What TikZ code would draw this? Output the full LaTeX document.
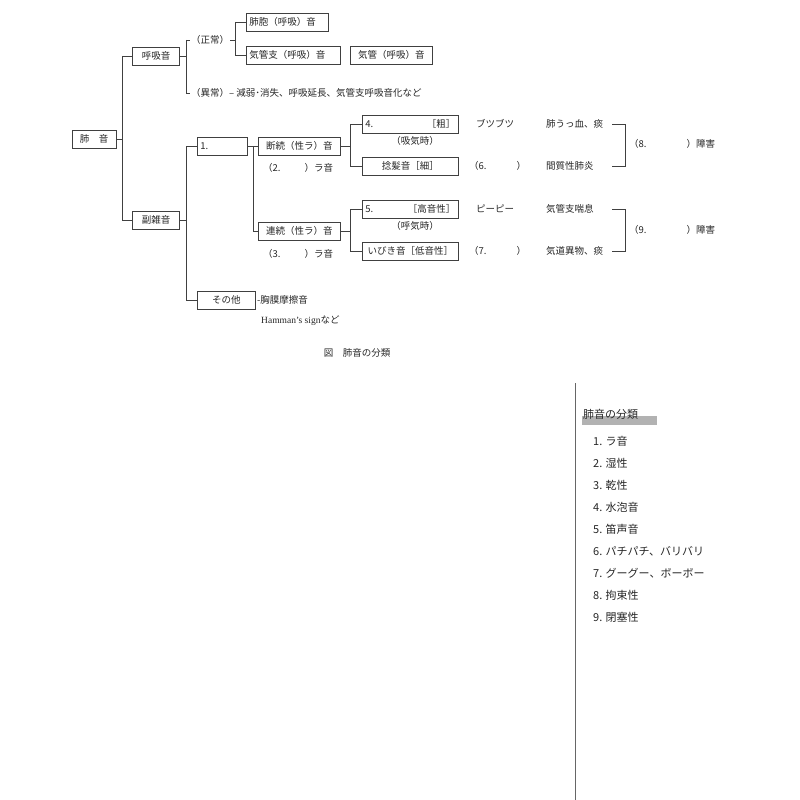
\documentclass[tikz,border=0pt]{standalone}
\usepackage{fontspec}
\setmainfont{Liberation Serif}
\newfontfamily\cjk{Noto Sans CJK JP}
\usetikzlibrary{positioning}

\begin{document}
\begin{tikzpicture}[
  x=1pt, y=-1pt,
  every node/.style={font=\cjk\fontsize{9.5}{10}\selectfont, text=black!85, inner sep=1pt},
  box/.style={draw=black!75, line width=0.7pt, minimum height=18pt, inner sep=2pt},
  link/.style={draw=black!75, line width=0.6pt},
  item/.style={anchor=west, font=\cjk\fontsize{11}{12}\selectfont, text=black!85},
]
\useasboundingbox (0,0) rectangle (800,800);

% ---------- root ----------
\node[box, minimum width=44pt] (hai) at (94,139) {肺\quad 音};
\draw[link] (hai.east) -- (122,139);
\draw[link] (122,56) -- (122,220);

% ---------- 呼吸音 ----------
\node[box, minimum width=47pt] (kokyu) at (156,56) {呼吸音};
\draw[link] (122,56) -- (kokyu.west);
\draw[link] (kokyu.east) -- (186,56);
\draw[link] (186,40) -- (186,93);
\node[anchor=west] (seijo) at (190,40) {（正常）};
\draw[link] (186,40) -- (seijo.west);
\draw[link] (seijo.east) -- (235,40);
\draw[link] (235,22) -- (235,55);
\node[box, anchor=west, minimum width=82pt, align=left, text width=76pt] (haiho) at (246,22) {肺胞（呼吸）音};
\node[box, anchor=west, minimum width=94pt, align=left, text width=88pt] (kikanshi) at (246,55) {気管支（呼吸）音};
\node[box, anchor=west, minimum width=82pt] (kikan) at (350,55) {気管（呼吸）音};
\draw[link] (235,22) -- (haiho.west);
\draw[link] (235,55) -- (kikanshi.west);
\node[anchor=west] (ijo) at (190,93) {（異常）– 減弱･消失、呼吸延長、気管支呼吸音化など};
\draw[link] (186,93) -- (ijo.west);

% ---------- 副雑音 ----------
\node[box, minimum width=47pt] (fuku) at (156,220) {副雑音};
\draw[link] (122,220) -- (fuku.west);
\draw[link] (fuku.east) -- (186,220);
\draw[link] (186,146) -- (186,300);

\node[box, anchor=west, minimum width=50pt, text width=44pt, align=left] (rael) at (197,146) {1.};
\draw[link] (186,146) -- (rael.west);
\draw[link] (rael.east) -- (258,146);
\draw[link] (253,146) -- (253,231);

\node[box, anchor=west, minimum width=82pt] (danzoku) at (258,146) {断続（性ラ）音};
\node[anchor=west] (q2) at (262,168) {（2.\hspace{24pt}）ラ音};
\node[box, anchor=west, minimum width=82pt] (renzoku) at (258,231) {連続（性ラ）音};
\node[anchor=west] (q3) at (262,254) {（3.\hspace{24pt}）ラ音};
\draw[link] (253,231) -- (renzoku.west);

% ---------- 断続性 ----------
\draw[link] (danzoku.east) -- (350,146);
\draw[link] (350,124) -- (350,166);
\node[box, anchor=west, minimum width=96pt, text width=90pt, align=left] (suiho) at (362,124) {4.\hfill［粗］};
\node (kyuki) at (415,141) {（吸気時）};
\node[box, anchor=west, minimum width=96pt] (nenpatsu) at (362,166) {捻髪音［細］};
\draw[link] (350,124) -- (suiho.west);
\draw[link] (350,166) -- (nenpatsu.west);
\node[anchor=west] (butsu) at (475,124) {ブツブツ};
\node[anchor=west] (q6) at (468,166) {（6.\hspace{30pt}）};
\node[anchor=west] (utsu) at (545,124) {肺うっ血、痰};
\node[anchor=west] (kansitsu) at (545,166) {間質性肺炎};
\draw[link] (612,124) -- (625,124) -- (625,166) -- (612,166);
\node[anchor=west] (q8) at (628,144) {（8.\hspace{40pt}）障害};

% ---------- 連続性 ----------
\draw[link] (renzoku.east) -- (350,231);
\draw[link] (350,209) -- (350,251);
\node[box, anchor=west, minimum width=96pt, text width=90pt, align=left] (tekisei) at (362,209) {5.\hfill［高音性］};
\node (koki) at (415,226) {（呼気時）};
\node[box, anchor=west, minimum width=96pt] (ibiki) at (362,251) {いびき音［低音性］};
\draw[link] (350,209) -- (tekisei.west);
\draw[link] (350,251) -- (ibiki.west);
\node[anchor=west] (pipi) at (475,209) {ピーピー};
\node[anchor=west] (q7) at (468,251) {（7.\hspace{30pt}）};
\node[anchor=west] (zensoku) at (545,209) {気管支喘息};
\node[anchor=west] (iboku) at (545,251) {気道異物、痰};
\draw[link] (612,209) -- (625,209) -- (625,251) -- (612,251);
\node[anchor=west] (q9) at (628,230) {（9.\hspace{40pt}）障害};

% ---------- その他 ----------
\node[box, anchor=west, minimum width=58pt] (sonota) at (197,300) {その他};
\draw[link] (186,300) -- (sonota.west);
\node[anchor=west] (kyomaku) at (256,300) {-胸膜摩擦音};
\node[anchor=west] (hamman) at (260,321) {\rmfamily Hamman's sign\cjk など};

\node (caption) at (357,353) {図\quad 肺音の分類};

% ---------- side list ----------
\draw[black!60, line width=1pt] (575,383) -- (575,800);
\fill[black!30] (582,416) rectangle (657,425);
\node[anchor=west, font=\cjk\fontsize{11}{12}\selectfont] (head) at (582,414) {肺音の分類};
\foreach \t [count=\i] in {ラ音, 湿性, 乾性, 水泡音, 笛声音, パチパチ、バリバリ, グーグー、ボーボー, 拘束性, 閉塞性}
  \node[item] (l\i) at (592,{441+22*(\i-1)}) {\i. \t};
\end{tikzpicture}
\end{document}
